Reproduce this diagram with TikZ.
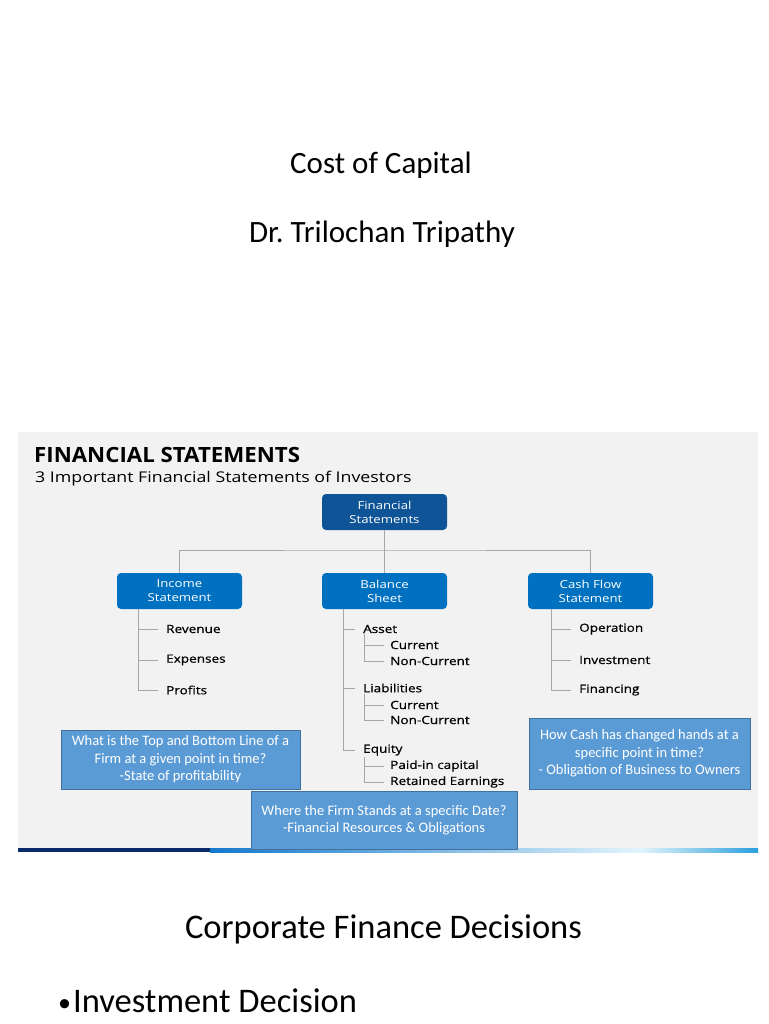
\documentclass[tikz,border=0pt]{standalone}
\usepackage{fontspec}
\setmainfont{Carlito}
\newfontfamily\diagfont[FakeStretch=1.2]{Open Sans}
\newfontfamily\itemfont[FakeStretch=1.2,FakeBold=0.7]{Open Sans}
\newfontfamily\headfont[FakeStretch=1.06]{Open Sans}
\usetikzlibrary{positioning}
\definecolor{PanelGrey}{HTML}{F2F2F2}
\definecolor{DeepBlue}{HTML}{0E5496}
\definecolor{MidBlue}{HTML}{0070C0}
\definecolor{CallBlue}{HTML}{5B9BD5}
\definecolor{CallEdge}{HTML}{41719C}
\definecolor{LineGrey}{HTML}{A6A6A6}
\definecolor{BarNavy}{HTML}{0B2A6B}
\definecolor{BarBlue}{HTML}{1478CC}
\definecolor{BarPale}{HTML}{E2F4FB}
\definecolor{BarEnd}{HTML}{2A9FDD}
\frenchspacing

\begin{document}
\begin{tikzpicture}[x=1pt,y=-1pt,
  slidetitle/.style={font=\fontsize{31}{36}\selectfont,inner sep=0pt},
  hbox/.style={fill=MidBlue,rounded corners=4pt,minimum width=125pt,
    minimum height=36pt,align=center,text=white,inner sep=0pt,
    font=\diagfont\fontsize{11}{14}\selectfont},
  rootbox/.style={hbox,fill=DeepBlue},
  item/.style={anchor=west,inner sep=0pt,
    font=\itemfont\fontsize{11.3}{12}\selectfont},
  callout/.style={draw=CallEdge,fill=CallBlue,text=white,align=center,
    inner sep=0pt,font=\fontsize{14.5}{17.5}\selectfont},
  tline/.style={draw=LineGrey,line width=1pt}
]
  \useasboundingbox (0,0) rectangle (768,1024);

  % slide titles
  \node[slidetitle] (title)  at (381,165) {Cost of Capital};
  \node[slidetitle] (author) at (382,234) {Dr. Trilochan Tripathy};

  % grey panel and bottom bar
  \fill[PanelGrey] (18,432) rectangle (758,848);
  \fill[BarNavy] (18,848) rectangle (210,852);
  \shade[left color=BarBlue,right color=BarPale] (210,848) rectangle (640,852);
  \shade[left color=BarPale,right color=BarEnd] (640,848) rectangle (758,852);

  % panel headers
  \node[anchor=west,inner sep=0pt,font=\headfont\bfseries\fontsize{21}{24}\selectfont]
    (fshead) at (34,455) {FINANCIAL STATEMENTS};
  \node[anchor=west,inner sep=0pt,font=\diagfont\fontsize{14.8}{17}\selectfont]
    (fssub) at (35,479) {3 Important Financial Statements of Investors};

  % statement boxes
  \node[rootbox] (root) at (384.5,512) {Financial\\Statements};
  \node[hbox] (inc)  at (179.5,591) {Income\\Statement};
  \node[hbox] (bal)  at (384.5,591) {Balance\\Sheet};
  \node[hbox] (cash) at (590.5,591) {Cash Flow\\Statement};
  \coordinate (bus) at (384.5,550);
  \draw[tline] (root.south) -- (bal.north);
  \draw[tline] (inc.north) |- (bus) -| (cash.north);

  % income statement items
  \node[item] (rev)  at (166,629) {Revenue};
  \node[item] (exp)  at (166,660) {Expenses};
  \node[item] (prof) at (166,690) {Profits};
  \coordinate (incstem) at ([xshift=-41.5pt]inc.south);
  \foreach \n in {rev,exp,prof}
    \draw[tline] (incstem) |- ([xshift=-8pt]\n.west);

  % balance sheet items
  \node[item] (asset) at (363,629) {Asset};
  \node[item] (acur)  at (390,645) {Current};
  \node[item] (anon)  at (390,661) {Non-Current};
  \node[item] (liab)  at (363,688) {Liabilities};
  \node[item] (lcur)  at (390,705) {Current};
  \node[item] (lnon)  at (390,720) {Non-Current};
  \node[item] (eq)    at (363,750) {Equity};
  \node[item] (epaid) at (390,766) {Paid-in capital};
  \node[item] (eret)  at (390,782) {Retained Earnings};
  \coordinate (balstem) at ([xshift=-41.5pt]bal.south);
  \foreach \n in {asset,liab,eq}
    \draw[tline] (balstem) |- ([xshift=-8pt]\n.west);
  \foreach \p/\a/\b in {asset/acur/anon,liab/lcur/lnon,eq/epaid/eret}{
    \draw[tline] ([xshift=1.5pt,yshift=-1pt]\p.south west) |- ([xshift=-6pt]\a.west);
    \draw[tline] ([xshift=1.5pt,yshift=-1pt]\p.south west) |- ([xshift=-6pt]\b.west);
  }

  % cash flow items
  \node[item] (oper) at (579,629) {Operation};
  \node[item] (inv)  at (579,660) {Investment};
  \node[item] (fin)  at (579,690) {Financing};
  \coordinate (cashstem) at ([xshift=-39.5pt]cash.south);
  \foreach \n in {oper,inv,fin}
    \draw[tline] (cashstem) |- ([xshift=-8pt]\n.west);

  % explanatory callouts
  \node[callout,minimum width=239pt,minimum height=59pt] (incnote) at (180.5,759.5)
    {What is the Top and Bottom Line of a\\Firm at a given point in time?\\-State of profitability};
  \node[callout,minimum width=221pt,minimum height=71pt] (cashnote) at (639.5,753.5)
    {How Cash has changed hands at a\\specific point in time?\\- Obligation of Business to Owners};
  \node[callout,minimum width=266pt,minimum height=58pt] (balnote) at (384,820)
    {Where the Firm Stands at a specific Date?\\-Financial Resources \& Obligations};

  % next slide
  \node[slidetitle,font=\fontsize{34.5}{40}\selectfont] (cfd) at (383.5,929) {Corporate Finance Decisions};
  \node[slidetitle,anchor=west,font=\fontsize{34.5}{40}\selectfont] (bullet) at (58,1001)
    {\raisebox{1pt}{\fontsize{26}{26}\selectfont•}\hspace{2pt}Investment Decision};
\end{tikzpicture}
\end{document}
